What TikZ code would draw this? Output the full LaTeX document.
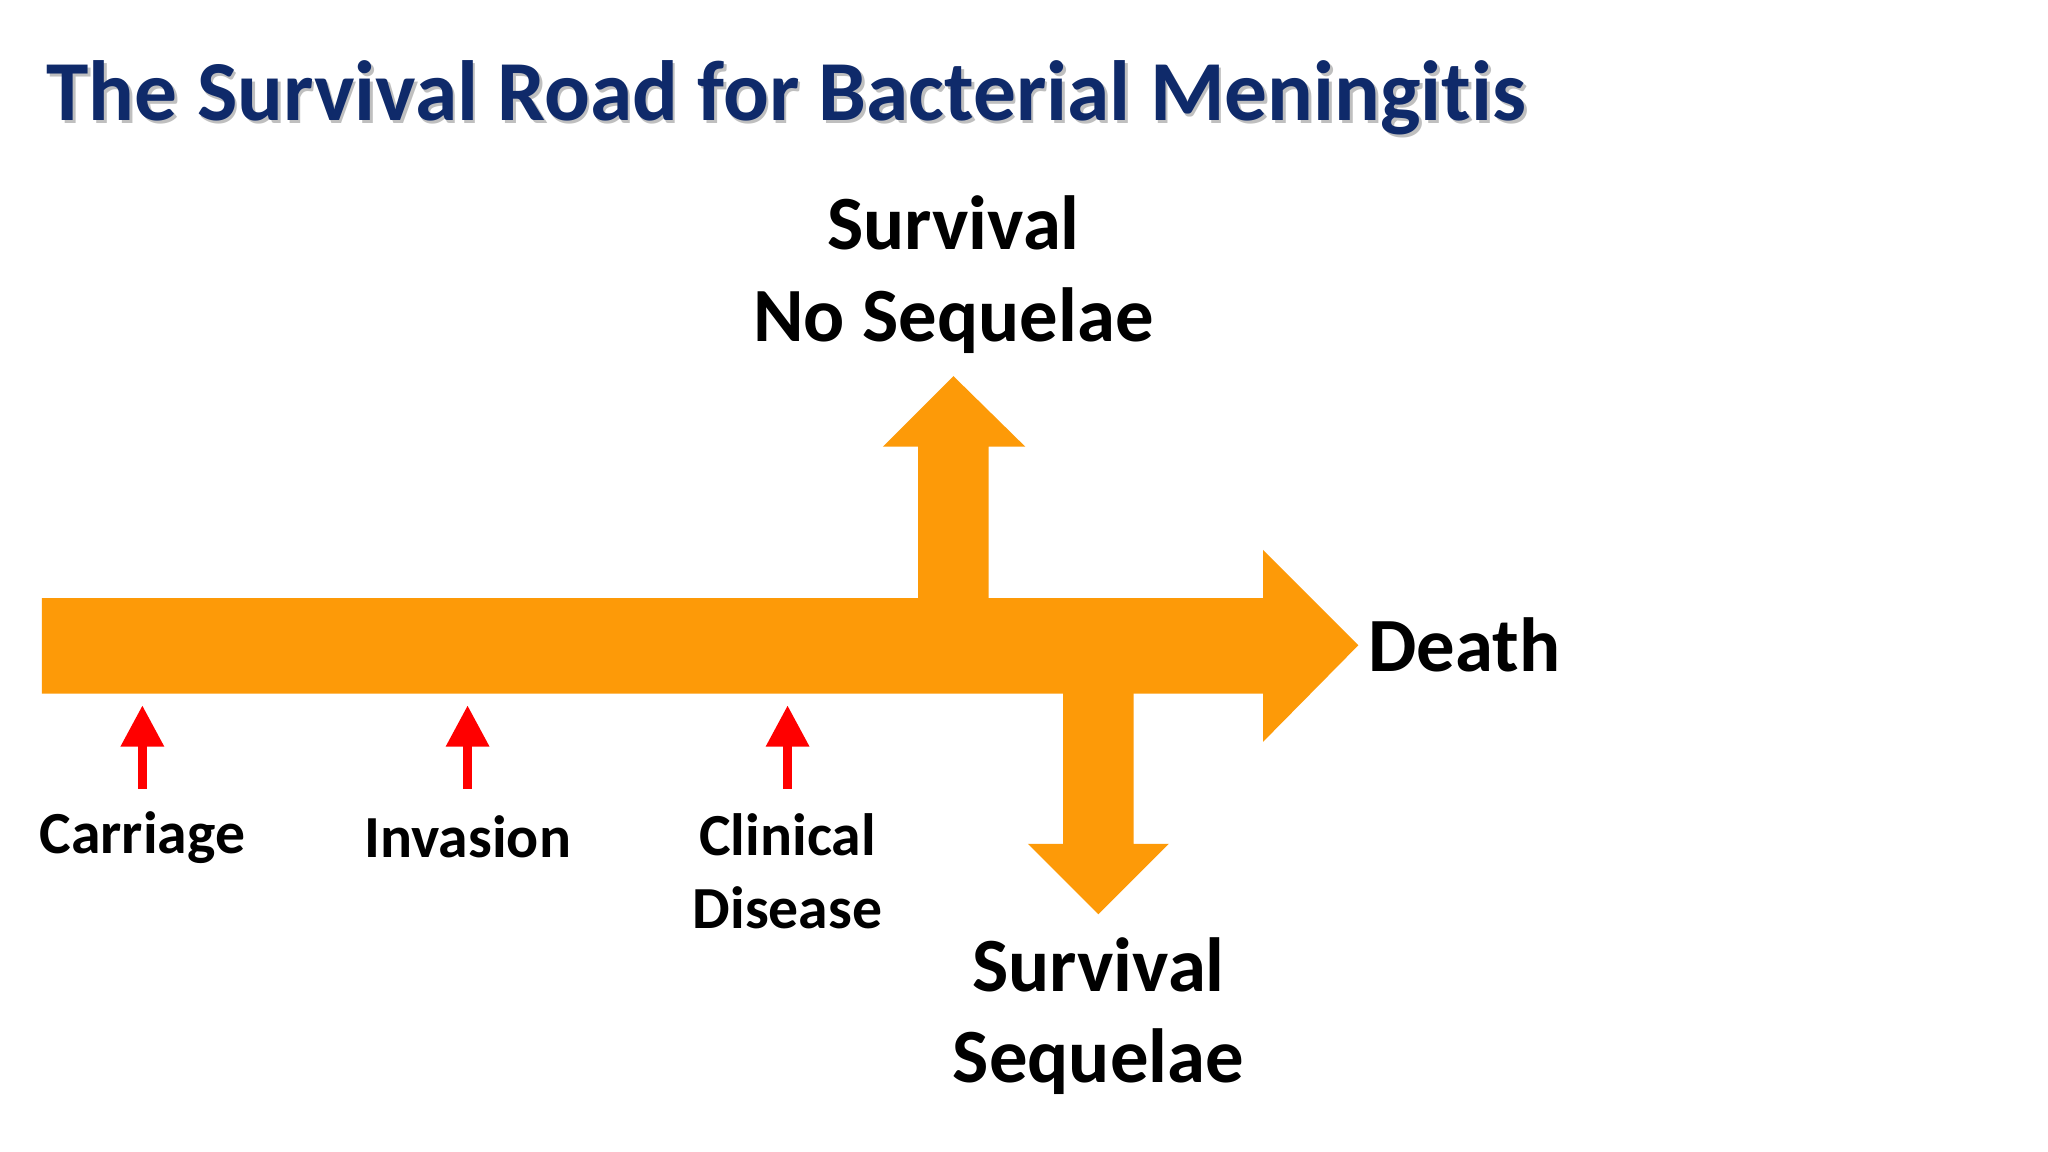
\documentclass[tikz,border=0pt]{standalone}
\usepackage{fontspec}
\setmainfont{Carlito}[Ligatures=NoCommon]
\usetikzlibrary{arrows.meta}
\definecolor{road}{HTML}{FD9A08}
\definecolor{navy}{HTML}{0F2A6A}
\begin{document}
\begin{tikzpicture}[x=0.01cm,y=-0.01cm,
  lbl/.style={font=\bfseries\fontsize{13}{16}\selectfont,align=center,inner sep=0pt},
  big/.style={font=\bfseries\fontsize{16.7}{20}\selectfont,align=center,inner sep=0pt},
  redarr/.style={red,line width=1.9pt,-{Triangle[width=9pt,length=9pt]}}]
\useasboundingbox[fill=white] (0,0) rectangle (1568,882);
% title
\node[anchor=west,inner sep=0pt,font=\bfseries\fontsize{18.6}{22}\selectfont,text=black!50,opacity=0.5] at (37,77) {The Survival Road for Bacterial Meningi\kern0pt tis};
\node[anchor=west,inner sep=0pt,font=\bfseries\fontsize{18.6}{22}\selectfont,text=navy] (title) at (35,75) {The Survival Road for Bacterial Meningi\kern0pt tis};
% road
\fill[road] (32,458) -- (967,458) -- (967,421) -- (1040,494) -- (967,568) -- (967,531) -- (32,531) -- cycle;
\fill[road] (703,459) -- (703,342) -- (676,342) -- (730,288) -- (785,342) -- (757,342) -- (757,459) -- cycle;
\fill[road] (814,530) -- (814,646) -- (787,646) -- (841,700) -- (895,646) -- (868,646) -- (868,530) -- cycle;
% labels
\node[big] (sns) at (730,210) {Survival\\No Sequelae};
\node[big] (ss) at (841,778) {Survival\\Sequelae};
\node[big,anchor=west] (death) at (1047,494) {Death};
\node[lbl] (car) at (109,641) {Carriage};
\node[lbl] (inv) at (358,641) {Invasion};
\node[lbl,anchor=north] (cd) at (603,622) {Clinical\\Disease};
\coordinate (c1) at (109,540); \coordinate (c2) at (358,540); \coordinate (c3) at (603,540);
\draw[redarr] (109,604) -- (c1);
\draw[redarr] (358,604) -- (c2);
\draw[redarr] (603,604) -- (c3);
\end{tikzpicture}
\end{document}
